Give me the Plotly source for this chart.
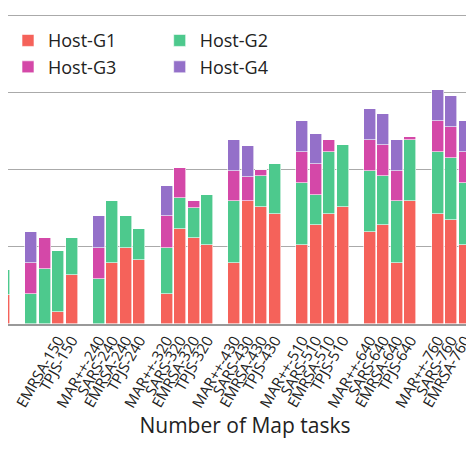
import plotly.graph_objects as go

# groups of map-task counts, four schedulers each
groups = ['80', '150', '240', '320', '430', '510', '640', '760']
methods = ['MAR++', 'SARS', 'EMRSA', 'TPJS']

# stacked values per bar, ordered group by group, method by method
host_g1 = [0, 0, 0, 37,
           0, 0, 15, 63,
           0, 79, 99, 83,
           39, 123, 111, 103,
           79, 159, 152, 143,
           103, 128, 143, 152,
           119, 128, 79, 159,
           143, 135, 103, 159]
host_g2 = [0, 0, 0, 33,
           39, 71, 80, 48,
           59, 80, 41, 40,
           60, 40, 40, 64,
           80, 0, 40, 64,
           80, 39, 80, 80,
           80, 64, 80, 80,
           80, 81, 80, 80]
host_g3 = [0, 0, 0, 0,
           40, 40, 0, 0,
           40, 0, 0, 0,
           41, 40, 8, 0,
           40, 32, 8, 0,
           40, 40, 16, 0,
           40, 40, 40, 4,
           41, 40, 40, 16]
host_g4 = [0, 0, 0, 0,
           40, 0, 0, 0,
           41, 0, 0, 0,
           39, 0, 0, 0,
           40, 40, 0, 0,
           40, 40, 0, 0,
           40, 40, 40, 0,
           39, 40, 40, 0]

xs, labels = [], []
for g, n in enumerate(groups):
    for j, m in enumerate(methods):
        xs.append(g * 5 + j)
        labels.append(f'{m}-{n}')

series = [
    ('Host-G1', host_g1, '#F5625A', 'legend'),
    ('Host-G2', host_g2, '#4DC98D', 'legend2'),
    ('Host-G3', host_g3, '#D448A8', 'legend'),
    ('Host-G4', host_g4, '#9470C9', 'legend2'),
]

fig = go.Figure()
for name, vals, color, leg in series:
    fig.add_trace(go.Bar(
        name=name, x=xs, y=vals, width=0.88,
        marker=dict(color=color, line=dict(color='white', width=0.6)),
        legend=leg,
    ))

legend_style = dict(
    font=dict(size=18, color='#222'), bgcolor='rgba(0,0,0,0)',
    yanchor='top', y=0.955, tracegroupgap=2, itemwidth=30,
    traceorder='normal',
)

fig.update_layout(
    width=474, height=474,
    barmode='stack', bargap=0,
    paper_bgcolor='white', plot_bgcolor='white',
    font=dict(family='Open Sans, Noto Sans, sans-serif', color='#222'),
    margin=dict(l=0, r=0, t=0, b=158, autoexpand=False),
    legend=dict(x=0.0, xanchor='left', **legend_style),
    legend2=dict(x=0.32, xanchor='left', **legend_style),
    xaxis=dict(
        range=[3.30, 38.28], tickvals=xs, ticktext=labels,
        tickangle=-60, tickfont=dict(size=15), automargin=False,
        showline=True, linecolor='#999', linewidth=1.5,
        ticks='', showgrid=False,
        title=dict(text='Number of Map tasks', font=dict(size=21), standoff=8),
    ),
    yaxis=dict(
        range=[0, 410], dtick=100, showticklabels=False, automargin=False,
        gridcolor='#aaa', gridwidth=1.2, zeroline=False,
    ),
)

fig.write_html('out.html')
